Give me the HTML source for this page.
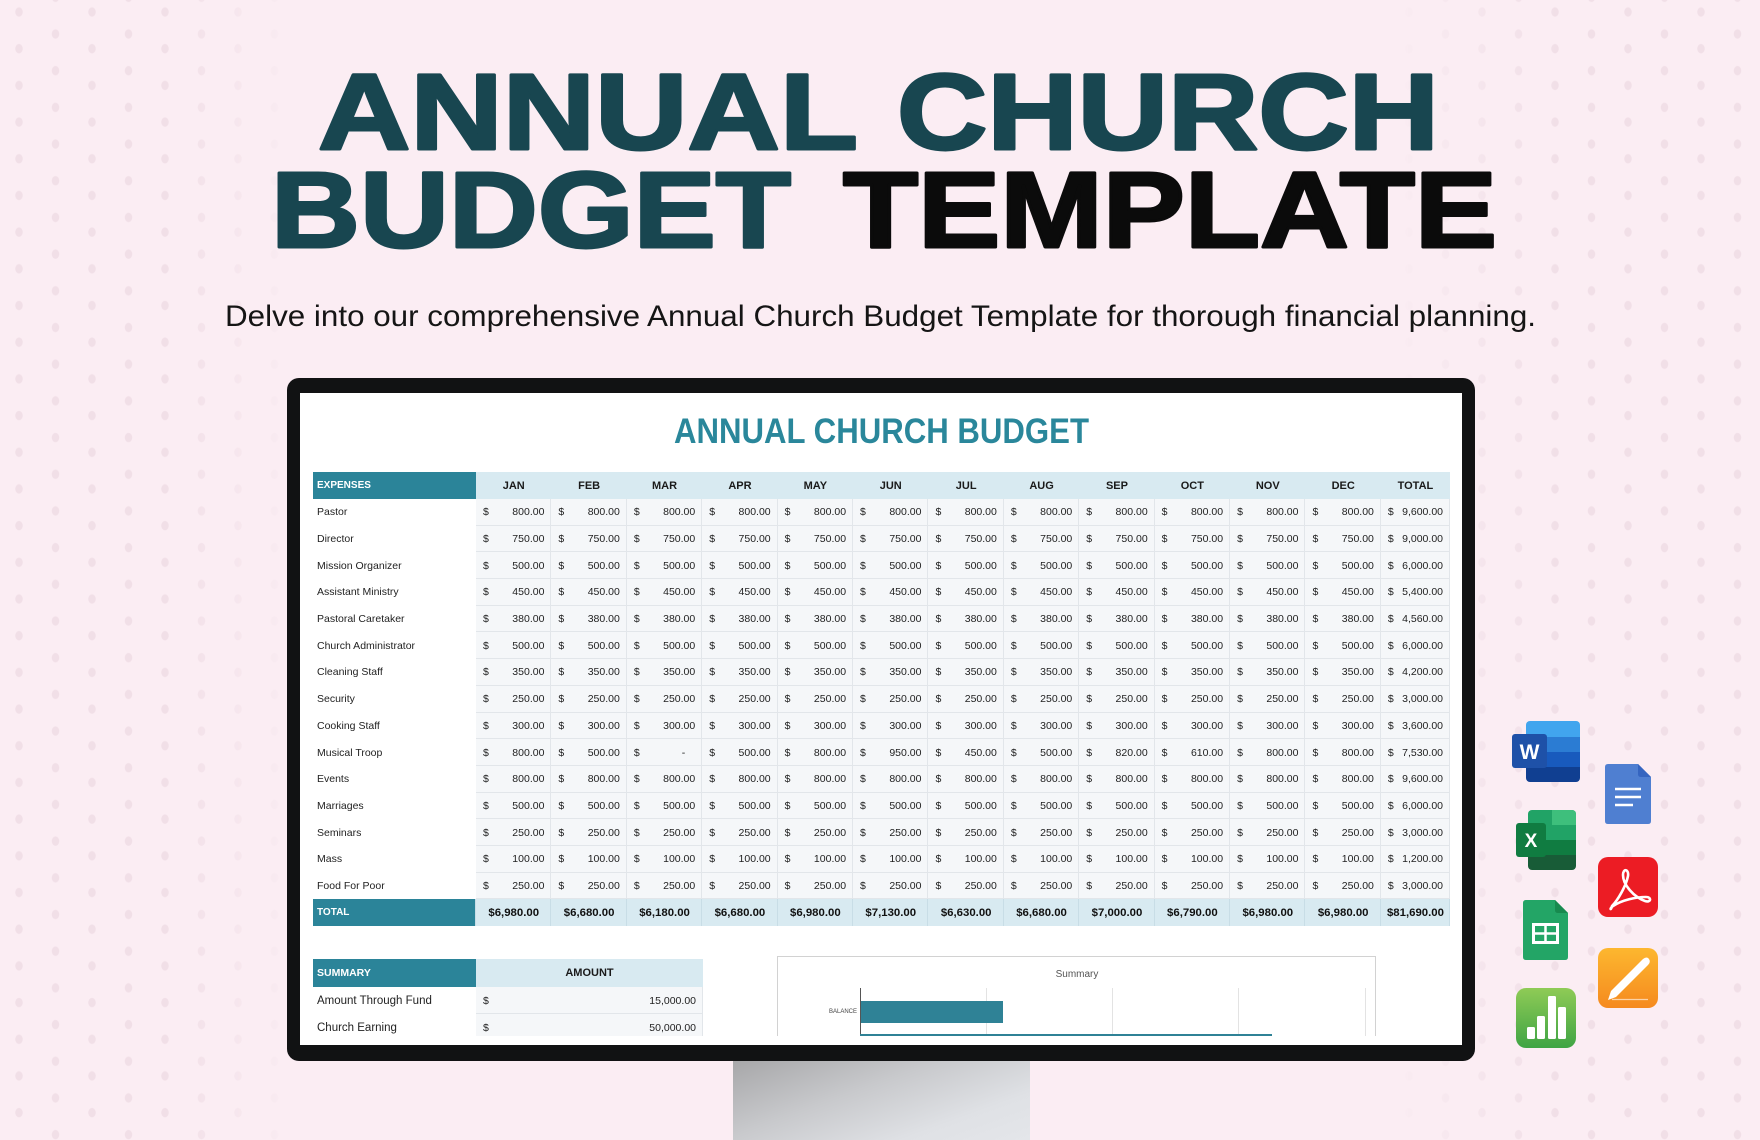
<!DOCTYPE html>
<html>
<head>
<meta charset="utf-8">
<style>
  html,body{margin:0;padding:0;}
  body{width:1760px;height:1140px;overflow:hidden;position:relative;background:#fbedf3;font-family:"Liberation Sans",Arial,sans-serif;}
  .abs{position:absolute;}
  .dots{position:absolute;top:0;height:1140px;
    background-image:
      radial-gradient(ellipse 4px 5px at 19px 12px,#f1dfe7 0,#f1dfe7 85%,rgba(241,223,231,0) 100%),
      radial-gradient(ellipse 4px 5px at 19px 12px,#f1dfe7 0,#f1dfe7 85%,rgba(241,223,231,0) 100%);
    background-size:73px 36.7px,73px 36.7px;
    background-position:0 0,36.5px 22px;}
  .frame{left:287px;top:378px;width:1188px;height:683px;background:#111213;border-radius:12px;}
  .screen{left:300px;top:393px;width:1162px;height:652px;background:#fff;}
  .stand{left:733px;top:1061px;width:297px;height:79px;background:linear-gradient(160deg,#a7a7a9 0%,#c8c9cc 40%,#dfe1e5 75%,#e4e6ea 100%);}
  .clip{position:absolute;left:300px;top:393px;width:1162px;height:643px;overflow:hidden;}
  .wrap{position:absolute;left:-300px;top:-393px;width:1760px;height:1140px;}
  table.t{position:absolute;border-collapse:separate;border-spacing:0;table-layout:fixed;font-family:"Liberation Sans",Arial,sans-serif;font-size:10.5px;color:#222;}
  table.t td{padding:0;height:26.7px;line-height:26px;white-space:nowrap;overflow:hidden;background:#f5f7f9;box-shadow:inset -1px -1px 0 #e2e6ea;}
  table.t td s{text-decoration:none;float:right;padding-right:7px;}
  table.t td{padding-left:7px;}
  table.t td.l{background:#fff;box-shadow:none;padding-left:4px;}
  table.t tr.h td{height:27px;background:#d8eaf1;box-shadow:none;font-weight:bold;font-size:11px;text-align:center;color:#1a1a1a;padding-left:0;}
  table.t tr.h td.hl,table.t tr.tot td.tl{background:#2b8499;color:#fff;text-align:left;padding-left:4px;font-size:10px;font-weight:bold;}
  table.t tr.tot td{height:27px;background:#d8eaf1;box-shadow:inset -1px 0 0 #c8dde6;font-weight:bold;font-size:11.4px;text-align:center;color:#111;padding-left:0;}
  table.s td.l{font-size:11.5px;}
  table.s tr.h td.hl{font-size:10.5px;}
</style>
</head>
<body>

<!-- background dots -->
<div class="dots" style="left:0;width:300px;-webkit-mask-image:linear-gradient(to right,#000 55%,transparent 100%);mask-image:linear-gradient(to right,#000 55%,transparent 100%);"></div>
<div class="dots" style="left:1390px;width:370px;-webkit-mask-image:linear-gradient(to right,transparent 0%,#000 45%);mask-image:linear-gradient(to right,transparent 0%,#000 45%);"></div>

<!-- Headline -->
<svg class="abs" style="left:0;top:0" width="1760" height="370" viewBox="0 0 1760 370">
  <g font-family="Liberation Sans, Arial, sans-serif" font-weight="bold" font-size="108" stroke-width="3" stroke-linejoin="round">
    <text x="318" y="149" textLength="540" lengthAdjust="spacingAndGlyphs" fill="#184650" stroke="#184650">ANNUAL</text>
    <text x="897" y="149" textLength="542" lengthAdjust="spacingAndGlyphs" fill="#184650" stroke="#184650">CHURCH</text>
    <text x="271" y="247" textLength="520" lengthAdjust="spacingAndGlyphs" fill="#184650" stroke="#184650">BUDGET</text>
    <text x="843" y="247" textLength="654" lengthAdjust="spacingAndGlyphs" fill="#0b0b0b" stroke="#0b0b0b">TEMPLATE</text>
  </g>
  <text x="225" y="326" font-family="Liberation Sans, Arial, sans-serif" font-size="30" textLength="1311" lengthAdjust="spacingAndGlyphs" fill="#151515">Delve into our comprehensive Annual Church Budget Template for thorough financial planning.</text>
</svg>

<!-- Monitor -->
<div class="abs stand"></div>
<div class="abs frame"></div>
<div class="abs screen"></div>

<div class="clip"><div class="wrap">
  <svg class="abs" style="left:0;top:0" width="1760" height="1140" viewBox="0 0 1760 1140">
    <text x="674" y="443" font-family="Liberation Sans, Arial, sans-serif" font-weight="bold" font-size="35" textLength="415" lengthAdjust="spacingAndGlyphs" fill="#2a879b">ANNUAL CHURCH BUDGET</text>

    <!-- Chart -->
    <rect x="777.5" y="956.5" width="598" height="200" fill="#fff" stroke="#d2d2d2" stroke-width="1"/>
    <text x="1077" y="977" text-anchor="middle" font-family="Liberation Sans, Arial, sans-serif" font-size="10" fill="#555">Summary</text>
    <g stroke="#e3e3e3" stroke-width="1">
      <line x1="986.5" y1="988" x2="986.5" y2="1036"/>
      <line x1="1112.5" y1="988" x2="1112.5" y2="1036"/>
      <line x1="1238.5" y1="988" x2="1238.5" y2="1036"/>
      <line x1="1365.5" y1="988" x2="1365.5" y2="1036"/>
    </g>
    <rect x="861" y="1001" width="142" height="22" fill="#2f8296"/>
    <line x1="860.5" y1="988" x2="860.5" y2="1036" stroke="#555" stroke-width="1"/>
    <line x1="860" y1="1035" x2="1272" y2="1035" stroke="#2f8296" stroke-width="2"/>
    <text x="857" y="1013" text-anchor="end" font-family="Liberation Sans, Arial, sans-serif" font-size="6" fill="#444">BALANCE</text>
  </svg>

  <table class="t" style="left:313px;top:472px;width:1137px;">
    <colgroup><col style="width:163px"><col style="width:75.42px"><col style="width:75.42px"><col style="width:75.42px"><col style="width:75.42px"><col style="width:75.42px"><col style="width:75.42px"><col style="width:75.42px"><col style="width:75.42px"><col style="width:75.42px"><col style="width:75.42px"><col style="width:75.42px"><col style="width:75.42px"><col style="width:69px"></colgroup>
    <tr class="h"><td class="hl">EXPENSES</td><td>JAN</td><td>FEB</td><td>MAR</td><td>APR</td><td>MAY</td><td>JUN</td><td>JUL</td><td>AUG</td><td>SEP</td><td>OCT</td><td>NOV</td><td>DEC</td><td>TOTAL</td></tr>
    <tr><td class="l">Pastor</td><td><s>800.00</s>$</td><td><s>800.00</s>$</td><td><s>800.00</s>$</td><td><s>800.00</s>$</td><td><s>800.00</s>$</td><td><s>800.00</s>$</td><td><s>800.00</s>$</td><td><s>800.00</s>$</td><td><s>800.00</s>$</td><td><s>800.00</s>$</td><td><s>800.00</s>$</td><td><s>800.00</s>$</td><td><s>9,600.00</s>$</td></tr>
    <tr><td class="l">Director</td><td><s>750.00</s>$</td><td><s>750.00</s>$</td><td><s>750.00</s>$</td><td><s>750.00</s>$</td><td><s>750.00</s>$</td><td><s>750.00</s>$</td><td><s>750.00</s>$</td><td><s>750.00</s>$</td><td><s>750.00</s>$</td><td><s>750.00</s>$</td><td><s>750.00</s>$</td><td><s>750.00</s>$</td><td><s>9,000.00</s>$</td></tr>
    <tr><td class="l">Mission Organizer</td><td><s>500.00</s>$</td><td><s>500.00</s>$</td><td><s>500.00</s>$</td><td><s>500.00</s>$</td><td><s>500.00</s>$</td><td><s>500.00</s>$</td><td><s>500.00</s>$</td><td><s>500.00</s>$</td><td><s>500.00</s>$</td><td><s>500.00</s>$</td><td><s>500.00</s>$</td><td><s>500.00</s>$</td><td><s>6,000.00</s>$</td></tr>
    <tr><td class="l">Assistant Ministry</td><td><s>450.00</s>$</td><td><s>450.00</s>$</td><td><s>450.00</s>$</td><td><s>450.00</s>$</td><td><s>450.00</s>$</td><td><s>450.00</s>$</td><td><s>450.00</s>$</td><td><s>450.00</s>$</td><td><s>450.00</s>$</td><td><s>450.00</s>$</td><td><s>450.00</s>$</td><td><s>450.00</s>$</td><td><s>5,400.00</s>$</td></tr>
    <tr><td class="l">Pastoral Caretaker</td><td><s>380.00</s>$</td><td><s>380.00</s>$</td><td><s>380.00</s>$</td><td><s>380.00</s>$</td><td><s>380.00</s>$</td><td><s>380.00</s>$</td><td><s>380.00</s>$</td><td><s>380.00</s>$</td><td><s>380.00</s>$</td><td><s>380.00</s>$</td><td><s>380.00</s>$</td><td><s>380.00</s>$</td><td><s>4,560.00</s>$</td></tr>
    <tr><td class="l">Church Administrator</td><td><s>500.00</s>$</td><td><s>500.00</s>$</td><td><s>500.00</s>$</td><td><s>500.00</s>$</td><td><s>500.00</s>$</td><td><s>500.00</s>$</td><td><s>500.00</s>$</td><td><s>500.00</s>$</td><td><s>500.00</s>$</td><td><s>500.00</s>$</td><td><s>500.00</s>$</td><td><s>500.00</s>$</td><td><s>6,000.00</s>$</td></tr>
    <tr><td class="l">Cleaning Staff</td><td><s>350.00</s>$</td><td><s>350.00</s>$</td><td><s>350.00</s>$</td><td><s>350.00</s>$</td><td><s>350.00</s>$</td><td><s>350.00</s>$</td><td><s>350.00</s>$</td><td><s>350.00</s>$</td><td><s>350.00</s>$</td><td><s>350.00</s>$</td><td><s>350.00</s>$</td><td><s>350.00</s>$</td><td><s>4,200.00</s>$</td></tr>
    <tr><td class="l">Security</td><td><s>250.00</s>$</td><td><s>250.00</s>$</td><td><s>250.00</s>$</td><td><s>250.00</s>$</td><td><s>250.00</s>$</td><td><s>250.00</s>$</td><td><s>250.00</s>$</td><td><s>250.00</s>$</td><td><s>250.00</s>$</td><td><s>250.00</s>$</td><td><s>250.00</s>$</td><td><s>250.00</s>$</td><td><s>3,000.00</s>$</td></tr>
    <tr><td class="l">Cooking Staff</td><td><s>300.00</s>$</td><td><s>300.00</s>$</td><td><s>300.00</s>$</td><td><s>300.00</s>$</td><td><s>300.00</s>$</td><td><s>300.00</s>$</td><td><s>300.00</s>$</td><td><s>300.00</s>$</td><td><s>300.00</s>$</td><td><s>300.00</s>$</td><td><s>300.00</s>$</td><td><s>300.00</s>$</td><td><s>3,600.00</s>$</td></tr>
    <tr><td class="l">Musical Troop</td><td><s>800.00</s>$</td><td><s>500.00</s>$</td><td><s style="padding-right:17px">-</s>$</td><td><s>500.00</s>$</td><td><s>800.00</s>$</td><td><s>950.00</s>$</td><td><s>450.00</s>$</td><td><s>500.00</s>$</td><td><s>820.00</s>$</td><td><s>610.00</s>$</td><td><s>800.00</s>$</td><td><s>800.00</s>$</td><td><s>7,530.00</s>$</td></tr>
    <tr><td class="l">Events</td><td><s>800.00</s>$</td><td><s>800.00</s>$</td><td><s>800.00</s>$</td><td><s>800.00</s>$</td><td><s>800.00</s>$</td><td><s>800.00</s>$</td><td><s>800.00</s>$</td><td><s>800.00</s>$</td><td><s>800.00</s>$</td><td><s>800.00</s>$</td><td><s>800.00</s>$</td><td><s>800.00</s>$</td><td><s>9,600.00</s>$</td></tr>
    <tr><td class="l">Marriages</td><td><s>500.00</s>$</td><td><s>500.00</s>$</td><td><s>500.00</s>$</td><td><s>500.00</s>$</td><td><s>500.00</s>$</td><td><s>500.00</s>$</td><td><s>500.00</s>$</td><td><s>500.00</s>$</td><td><s>500.00</s>$</td><td><s>500.00</s>$</td><td><s>500.00</s>$</td><td><s>500.00</s>$</td><td><s>6,000.00</s>$</td></tr>
    <tr><td class="l">Seminars</td><td><s>250.00</s>$</td><td><s>250.00</s>$</td><td><s>250.00</s>$</td><td><s>250.00</s>$</td><td><s>250.00</s>$</td><td><s>250.00</s>$</td><td><s>250.00</s>$</td><td><s>250.00</s>$</td><td><s>250.00</s>$</td><td><s>250.00</s>$</td><td><s>250.00</s>$</td><td><s>250.00</s>$</td><td><s>3,000.00</s>$</td></tr>
    <tr><td class="l">Mass</td><td><s>100.00</s>$</td><td><s>100.00</s>$</td><td><s>100.00</s>$</td><td><s>100.00</s>$</td><td><s>100.00</s>$</td><td><s>100.00</s>$</td><td><s>100.00</s>$</td><td><s>100.00</s>$</td><td><s>100.00</s>$</td><td><s>100.00</s>$</td><td><s>100.00</s>$</td><td><s>100.00</s>$</td><td><s>1,200.00</s>$</td></tr>
    <tr><td class="l">Food For Poor</td><td><s>250.00</s>$</td><td><s>250.00</s>$</td><td><s>250.00</s>$</td><td><s>250.00</s>$</td><td><s>250.00</s>$</td><td><s>250.00</s>$</td><td><s>250.00</s>$</td><td><s>250.00</s>$</td><td><s>250.00</s>$</td><td><s>250.00</s>$</td><td><s>250.00</s>$</td><td><s>250.00</s>$</td><td><s>3,000.00</s>$</td></tr>
    <tr class="tot"><td class="tl">TOTAL</td><td>$6,980.00</td><td>$6,680.00</td><td>$6,180.00</td><td>$6,680.00</td><td>$6,980.00</td><td>$7,130.00</td><td>$6,630.00</td><td>$6,680.00</td><td>$7,000.00</td><td>$6,790.00</td><td>$6,980.00</td><td>$6,980.00</td><td>$81,690.00</td></tr>
  </table>

  <table class="t s" style="left:313px;top:959px;width:390px;">
    <colgroup><col style="width:163px"><col style="width:227px"></colgroup>
    <tr class="h"><td class="hl" style="height:28px">SUMMARY</td><td style="height:28px">AMOUNT</td></tr>
    <tr><td class="l" style="height:27px">Amount Through Fund</td><td style="height:27px"><s>15,000.00</s>$</td></tr>
    <tr><td class="l" style="height:27px">Church Earning</td><td style="height:27px"><s>50,000.00</s>$</td></tr>
  </table>
</div></div>

<!-- App icons -->
<svg class="abs" style="left:0;top:0" width="1760" height="1140" viewBox="0 0 1760 1140">
  <defs>
    <clipPath id="cw"><rect x="1526" y="721" width="54" height="61" rx="4"/></clipPath>
    <clipPath id="cx"><rect x="1528" y="810" width="48" height="60" rx="4"/></clipPath>
    <linearGradient id="gp" x1="0" y1="0" x2="0" y2="1"><stop offset="0" stop-color="#fdb72f"/><stop offset="1" stop-color="#f58a1f"/></linearGradient>
    <linearGradient id="gn" x1="0" y1="0" x2="0" y2="1"><stop offset="0" stop-color="#8fcb56"/><stop offset="1" stop-color="#3fa444"/></linearGradient>
  </defs>
  <!-- Word -->
  <g clip-path="url(#cw)">
    <rect x="1526" y="721" width="54" height="16" fill="#41a5ee"/>
    <rect x="1526" y="737" width="54" height="15" fill="#2b7cd3"/>
    <rect x="1526" y="752" width="54" height="15" fill="#185abd"/>
    <rect x="1526" y="767" width="54" height="15" fill="#103f91"/>
  </g>
  <rect x="1512" y="734" width="35" height="34" rx="3" fill="#1e51a8"/>
  <text x="1529.5" y="759" text-anchor="middle" font-family="Liberation Sans, Arial, sans-serif" font-weight="bold" font-size="21" fill="#fff">W</text>
  <!-- Docs -->
  <path d="M1608,764 H1638 L1651,777 V821 Q1651,824 1648,824 H1608 Q1605,824 1605,821 V767 Q1605,764 1608,764 Z" fill="#4f7fd1"/>
  <path d="M1638,764 L1651,777 H1641 Q1638,777 1638,774 Z" fill="#3565c0"/>
  <g stroke="#fff" stroke-width="2.6">
    <line x1="1615" y1="789" x2="1641" y2="789"/>
    <line x1="1615" y1="797" x2="1641" y2="797"/>
    <line x1="1615" y1="805" x2="1633" y2="805"/>
  </g>
  <!-- Excel -->
  <g clip-path="url(#cx)">
    <rect x="1528" y="810" width="48" height="15" fill="#21a366"/>
    <rect x="1552" y="810" width="24" height="15" fill="#3ebf7c"/>
    <rect x="1528" y="825" width="48" height="15" fill="#21a366"/>
    <rect x="1528" y="840" width="48" height="15" fill="#107c41"/>
    <rect x="1528" y="855" width="48" height="15" fill="#185c37"/>
  </g>
  <rect x="1516" y="823" width="30" height="34" rx="3" fill="#107c41"/>
  <text x="1531" y="847" text-anchor="middle" font-family="Liberation Sans, Arial, sans-serif" font-weight="bold" font-size="19" fill="#fff">X</text>
  <!-- PDF -->
  <rect x="1598" y="857" width="60" height="60" rx="10" fill="#ec1c24"/>
  <path d="M1612,906 C1618,900 1626,886 1628,876 C1629,869 1623,868 1623,875 C1623,885 1634,897 1645,901 C1651,903 1652,897 1646,897 C1636,897 1622,900 1613,906 C1609,909 1611,911 1612,906 Z" fill="none" stroke="#fff" stroke-width="2.6" stroke-linejoin="round"/>
  <!-- Sheets -->
  <path d="M1526,900 H1555 L1568,913 V957 Q1568,960 1565,960 H1526 Q1523,960 1523,957 V903 Q1523,900 1526,900 Z" fill="#23a566"/>
  <path d="M1555,900 L1568,913 H1558 Q1555,913 1555,910 Z" fill="#188a4f"/>
  <rect x="1533.5" y="924.5" width="24" height="18" fill="none" stroke="#fff" stroke-width="3"/>
  <line x1="1533" y1="933.5" x2="1558" y2="933.5" stroke="#fff" stroke-width="2.5"/>
  <line x1="1545.5" y1="924" x2="1545.5" y2="943" stroke="#fff" stroke-width="2.5"/>
  <!-- Pages -->
  <rect x="1598" y="948" width="60" height="60" rx="10" fill="url(#gp)"/>
  <line x1="1612" y1="999.5" x2="1648" y2="999.5" stroke="#fff" stroke-opacity="0.6" stroke-width="1.2"/>
  <path d="M1608,1000 L1611,991 L1643,959 Q1647,956 1649,959 Q1651,962 1648,965 L1616,997 Z" fill="#fff"/>
  <!-- Numbers -->
  <rect x="1516" y="988" width="60" height="60" rx="10" fill="url(#gn)"/>
  <g fill="#fff">
    <rect x="1527" y="1027" width="8" height="12" rx="1.5"/>
    <rect x="1537" y="1016" width="8" height="23" rx="1.5"/>
    <rect x="1548" y="996" width="8" height="43" rx="1.5"/>
    <rect x="1558" y="1007" width="8" height="32" rx="1.5"/>
  </g>
</svg>

</body>
</html>
